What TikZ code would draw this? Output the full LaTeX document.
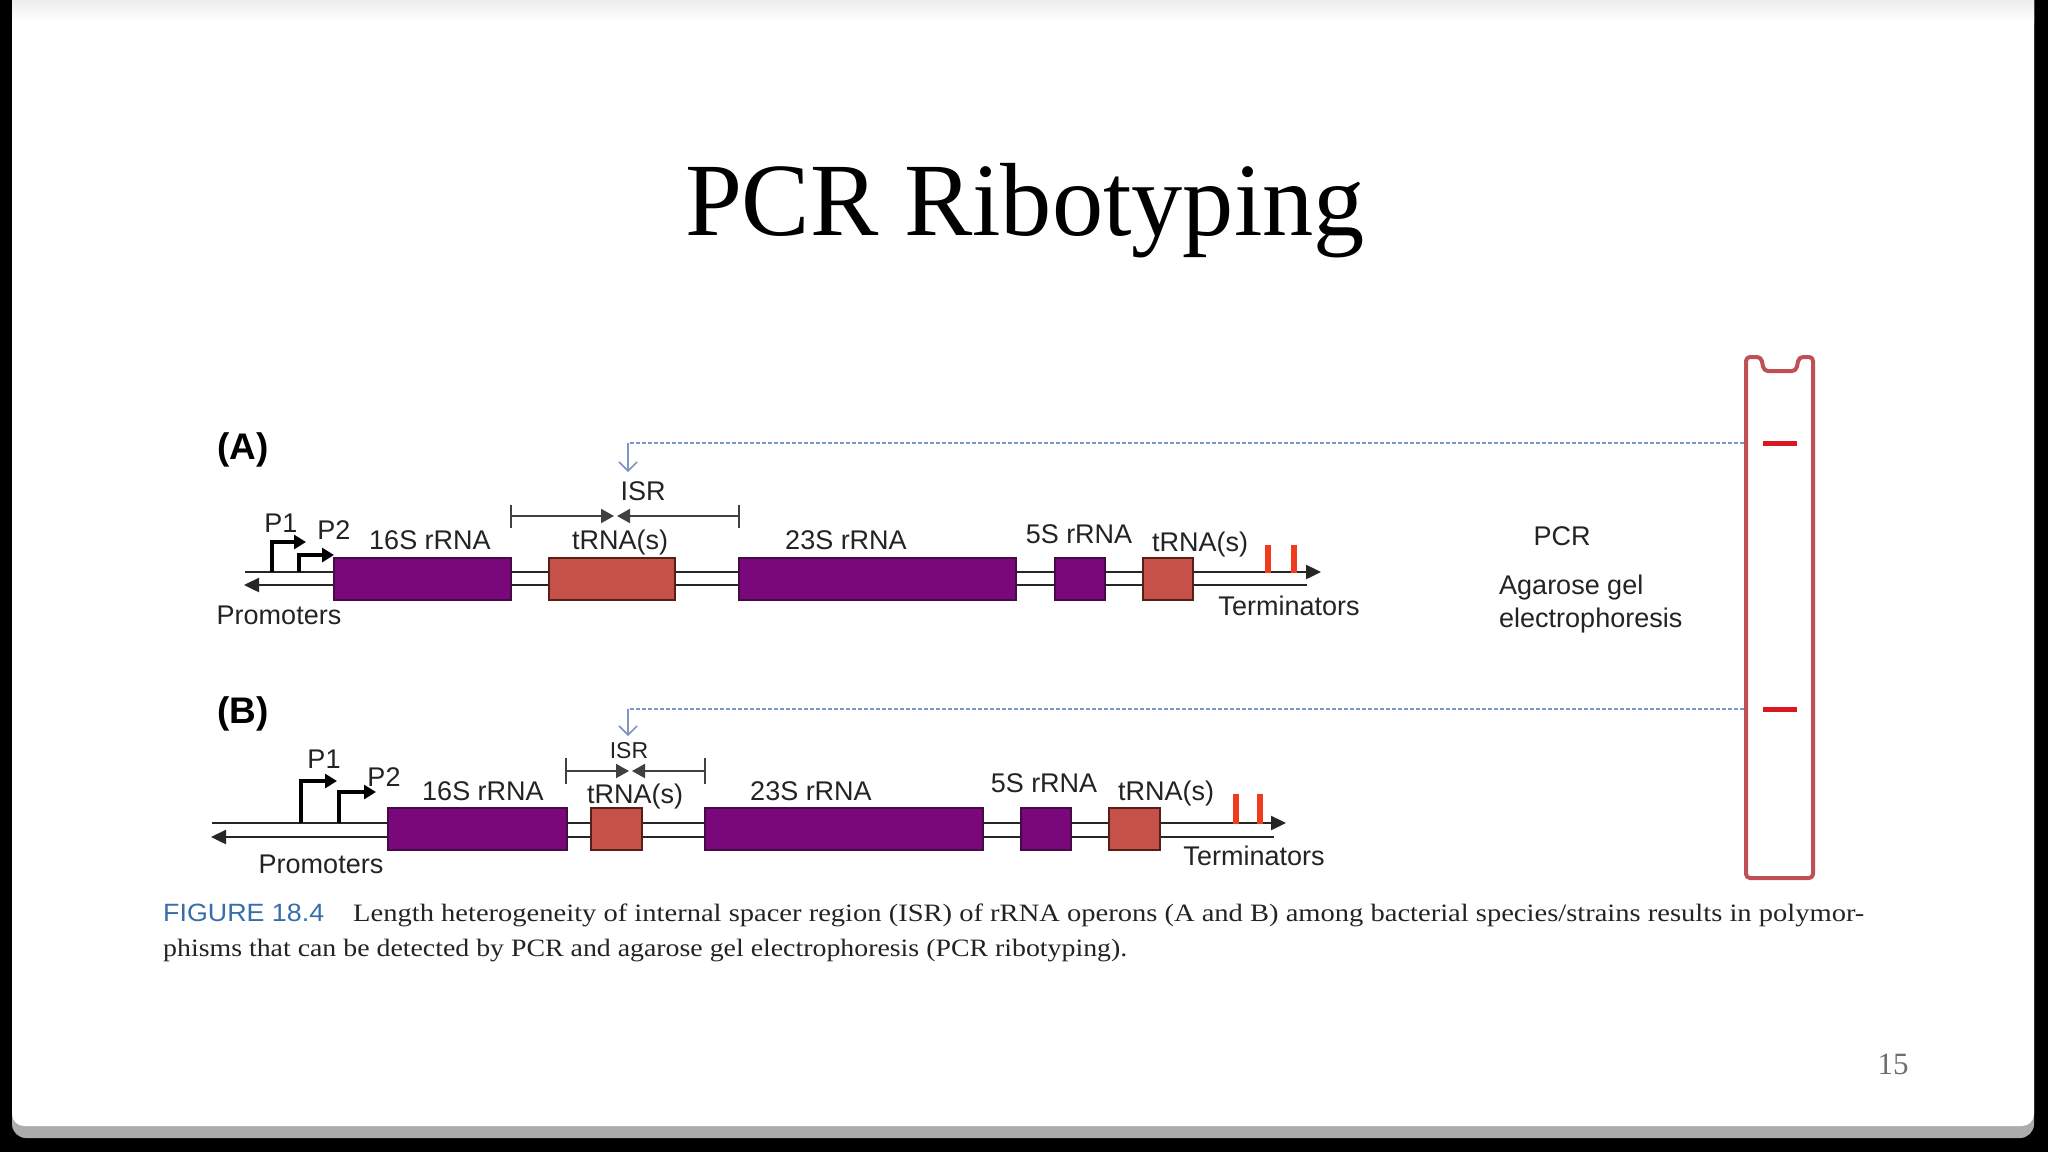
\documentclass[tikz,border=0pt]{standalone}
\usepackage{fontspec}
\setmainfont{Liberation Serif}
\newfontfamily\arial{Liberation Sans}
\usetikzlibrary{arrows.meta}
\definecolor{genepurple}{RGB}{122,8,122}
\definecolor{geneedge}{RGB}{70,10,70}
\definecolor{trnared}{RGB}{196,82,72}
\definecolor{trnaedge}{RGB}{90,30,25}
\definecolor{termred}{RGB}{240,60,30}
\definecolor{probeblue}{RGB}{125,150,195}
\definecolor{gelred}{RGB}{192,80,85}
\definecolor{bandred}{RGB}{215,25,35}
\definecolor{textdark}{RGB}{35,35,35}
\definecolor{capblue}{RGB}{55,110,170}
\definecolor{pagegray}{RGB}{110,110,110}
\begin{document}
\begin{tikzpicture}[x=1pt,y=-1pt,
  genebox/.style={draw=geneedge, line width=1.2pt, fill=genepurple, inner sep=0pt, outer sep=0pt, minimum height=42pt},
  trnabox/.style={draw=trnaedge, line width=1.2pt, fill=trnared, inner sep=0pt, outer sep=0pt, minimum height=42pt},
  strandline/.style={draw=black!85, line width=2.4pt},
  promarrow/.style={draw=black, line width=4pt, -{Triangle[length=12pt,width=14pt]}},
  termbar/.style={draw=termred, line width=5.5pt},
  isrbar/.style={draw=black!75, line width=2pt},
  isrtip/.style={isrbar, -{Triangle[length=13pt,width=14pt]}},
  probeline/.style={draw=probeblue, line width=1.6pt, dash pattern=on 4pt off 2pt},
  probetip/.style={draw=probeblue, line width=1.6pt, -{Straight Barb[length=9pt,width=18pt]}},
  lbl/.style={font=\arial\fontsize{27}{32}\selectfont, text=textdark, inner sep=0pt, anchor=base},
  lblsmall/.style={font=\arial\fontsize{23}{28}\selectfont, text=textdark, inner sep=0pt, anchor=base},
  panel/.style={font=\arial\bfseries\fontsize{37}{44}\selectfont, text=black, inner sep=0pt, anchor=base}
]
\useasboundingbox (0,0) rectangle (2048,1152);
% slide frame
\fill[black] (0,0) rectangle (2048,1152);
\shade[top color=gray!45, bottom color=gray!65, rounded corners=14] (12,-20) rectangle (2034,1138);
\fill[white, rounded corners=12] (12,-20) rectangle (2034,1126);
\shade[top color=gray!14, bottom color=white] (12,0) rectangle (2034,22);

% title
\node[anchor=base, inner sep=0pt, text=black] (title) at (1025,235)
  {\resizebox{680pt}{\height}{\fontsize{104}{120}\selectfont PCR Ribotyping}};

% ================= (A) =================
\node[panel] (pA) at (243,459) {(A)};
\coordinate (aUL) at (245,572); \coordinate (aUR) at (1321,572);
\coordinate (aLL) at (244,585); \coordinate (aLR) at (1307,585);
\draw[strandline] (aUL) -- (1300,572);
\draw[strandline, -{Triangle[length=15pt,width=14pt]}] (1290,572) -- (aUR);
\draw[strandline, -{Triangle[length=15pt,width=14pt]}] (aLR) -- (aLL);
\node[genebox, minimum width=177pt] (a16) at (422.5,579) {};
\node[trnabox, minimum width=126pt] (at1) at (612,579) {};
\node[genebox, minimum width=277pt] (a23) at (877.5,579) {};
\node[genebox, minimum width=50pt] (a5) at (1080,579) {};
\node[trnabox, minimum width=50pt] (at2) at (1168,579) {};
\coordinate (ap1) at (272,572); \coordinate (ap1t) at (306,542);
\coordinate (ap2) at (299,572); \coordinate (ap2t) at (334,555);
\draw[promarrow] (ap1) |- (ap1t);
\draw[promarrow] (ap2) |- (ap2t);
\coordinate (at1b) at (1268,573); \coordinate (at1a) at (1268,545);
\coordinate (at2b) at (1294,573); \coordinate (at2a) at (1294,545);
\draw[termbar] (at1b) -- (at1a);
\draw[termbar] (at2b) -- (at2a);
% ISR bracket
\coordinate (aiL) at (511,516); \coordinate (aiR) at (739,516);
\draw[isrbar] (511,505) -- (511,528);
\draw[isrbar] (739,505) -- (739,528);
\draw[isrtip] (aiL) -- (614,516);
\draw[isrtip] (aiR) -- (617,516);
% labels
\node[lbl] (aP1) at (281,532) {P1};
\node[lbl] (aP2) at (334,539) {P2};
\node[lbl] (a16l) at (430,549) {16S rRNA};
\node[lbl] (aisr) at (643,500) {ISR};
\node[lbl] (at1l) at (620,549) {tRNA(s)};
\node[lbl] (a23l) at (846,549) {23S rRNA};
\node[lbl] (a5l) at (1079,543) {5S rRNA};
\node[lbl] (at2l) at (1200,551) {tRNA(s)};
\node[lbl] (aterm) at (1289,615) {Terminators};
\node[lbl] (aprom) at (279,624) {Promoters};

% ================= (B) =================
\node[panel] (pB) at (243,723) {(B)};
\coordinate (bUL) at (212,823); \coordinate (bUR) at (1286,823);
\coordinate (bLL) at (211,837); \coordinate (bLR) at (1274,837);
\draw[strandline] (bUL) -- (1265,823);
\draw[strandline, -{Triangle[length=15pt,width=14pt]}] (1255,823) -- (bUR);
\draw[strandline, -{Triangle[length=15pt,width=14pt]}] (bLR) -- (bLL);
\node[genebox, minimum width=179pt] (b16) at (477.5,829) {};
\node[trnabox, minimum width=51pt] (bt1) at (616.5,829) {};
\node[genebox, minimum width=278pt] (b23) at (844,829) {};
\node[genebox, minimum width=50pt] (b5) at (1046,829) {};
\node[trnabox, minimum width=51pt] (bt2) at (1134.5,829) {};
\coordinate (bp1) at (301,823); \coordinate (bp1t) at (337,781);
\coordinate (bp2) at (339,823); \coordinate (bp2t) at (376,792);
\draw[promarrow] (bp1) |- (bp1t);
\draw[promarrow] (bp2) |- (bp2t);
\coordinate (bt1b) at (1236,824); \coordinate (bt1a) at (1236,794);
\coordinate (bt2b) at (1260,824); \coordinate (bt2a) at (1260,794);
\draw[termbar] (bt1b) -- (bt1a);
\draw[termbar] (bt2b) -- (bt2a);
\coordinate (biL) at (566,771); \coordinate (biR) at (705,771);
\draw[isrbar] (566,758) -- (566,784);
\draw[isrbar] (705,758) -- (705,784);
\draw[isrtip] (biL) -- (629,771);
\draw[isrtip] (biR) -- (632,771);
\node[lbl] (bP1) at (324,768) {P1};
\node[lbl] (bP2) at (384,786) {P2};
\node[lbl] (b16l) at (483,800) {16S rRNA};
\node[lblsmall] (bisr) at (629,758) {ISR};
\node[lbl] (bt1l) at (635,803) {tRNA(s)};
\node[lbl] (b23l) at (811,800) {23S rRNA};
\node[lbl] (b5l) at (1044,792) {5S rRNA};
\node[lbl] (bt2l) at (1166,800) {tRNA(s)};
\node[lbl] (bterm) at (1254,865) {Terminators};
\node[lbl] (bprom) at (321,873) {Promoters};

% ================= gel =================
\draw[gelred, line width=4pt, rounded corners=4pt, line join=round]
  (1746,878) -- (1746,357) -- (1761,357) -- (1764,371) -- (1796,371) -- (1799,357) -- (1813,357) -- (1813,878) -- cycle;
\coordinate (gA) at (1744,443); \coordinate (gB) at (1744,709);
\draw[draw=bandred, line width=5pt] (1763,443) -- (1797,443);
\draw[draw=bandred, line width=5pt] (1763,709) -- (1797,709);
% probe connectors
\coordinate (aturn) at (628,443); \coordinate (bturn) at (628,709);
\coordinate (aend) at (628,472); \coordinate (bend) at (628,736);
\draw[probeline] (gA) -- (aturn);
\draw[probetip] (aturn) -- (aend);
\draw[probeline] (gB) -- (bturn);
\draw[probetip] (bturn) -- (bend);

\node[lbl] (pcr) at (1562,545) {PCR};
\node[lbl, anchor=base west] (aga) at (1499,594) {Agarose gel};
\node[lbl, anchor=base west] (ele) at (1499,627) {electrophoresis};

% caption
\node[anchor=base west, inner sep=0pt, text=capblue] (figlab) at (163,921)
  {\resizebox{161pt}{\height}{\arial\fontsize{25}{30}\selectfont FIGURE 18.4}};
\node[anchor=base west, inner sep=0pt, text=textdark] (cap1) at (353,921)
  {\resizebox{1511pt}{\height}{\fontsize{25}{30}\selectfont Length heterogeneity of internal spacer region (ISR) of rRNA operons (A and B) among bacterial species/strains results in polymor-}};
\node[anchor=base west, inner sep=0pt, text=textdark] (cap2) at (163,956)
  {\resizebox{964pt}{\height}{\fontsize{25}{30}\selectfont phisms that can be detected by PCR and agarose gel electrophoresis (PCR ribotyping).}};

\node[anchor=base, inner sep=0pt, text=pagegray] (pg) at (1893,1074) {\fontsize{31}{36}\selectfont 15};
\end{tikzpicture}
\end{document}
